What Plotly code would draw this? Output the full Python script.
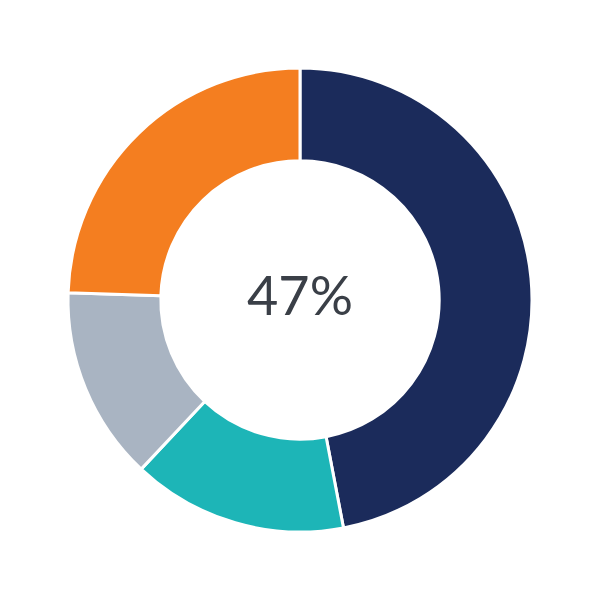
import plotly.graph_objects as go

labels = ["A", "B", "C", "D"]
values = [47, 15, 13.5, 24.5]
colors = ["#1B2B5B", "#1DB5B7", "#A9B4C2", "#F47E20"]
center_text = "47%"

fig = go.Figure(go.Pie(
    labels=labels,
    values=values,
    hole=0.6,
    sort=False,
    direction="clockwise",
    rotation=0,
    marker=dict(colors=colors, line=dict(color="white", width=3)),
    textinfo="none",
    hoverinfo="label+percent",
    showlegend=False,
))
fig.update_layout(
    width=600, height=600,
    margin=dict(l=60, r=76, t=60, b=76),
    paper_bgcolor="white",
    annotations=[dict(text=center_text, x=0.5, y=0.5, xref="paper", yref="paper",
                      showarrow=False, yshift=6,
                      font=dict(family="Lato", size=54, color="#3A3F47"))],
)
fig.write_html("out.html")
